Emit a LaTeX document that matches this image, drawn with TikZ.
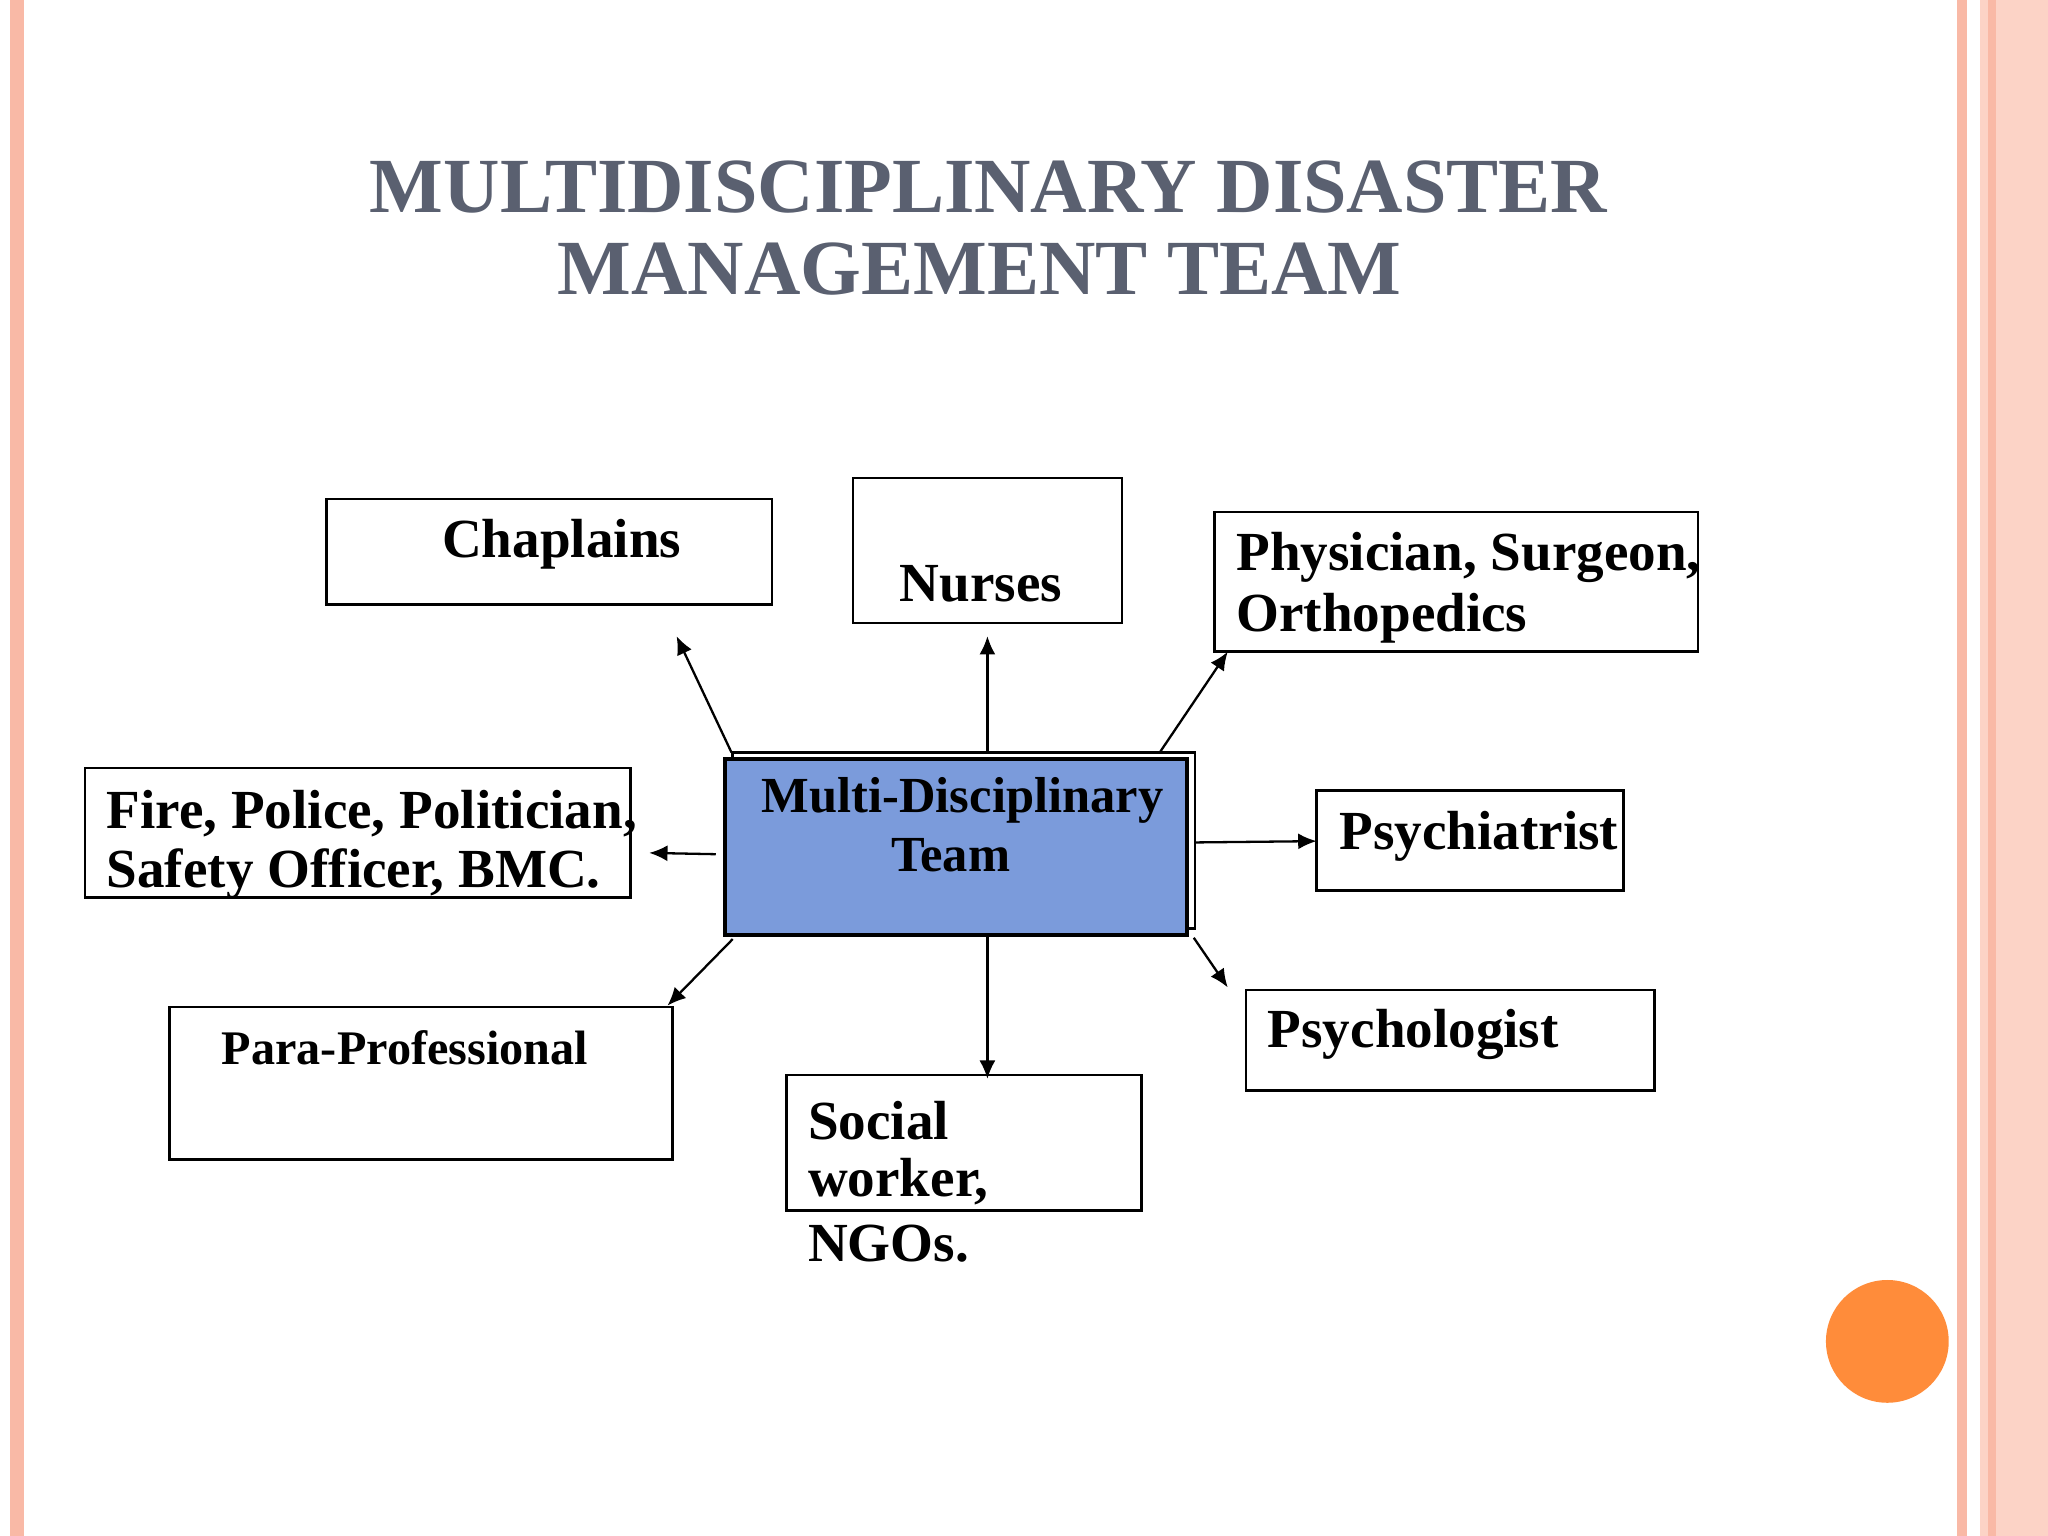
\documentclass[tikz,border=0pt]{standalone}
\usepackage{fontspec}
\setmainfont{Liberation Serif}
\usetikzlibrary{arrows.meta}
\definecolor{titlec}{HTML}{5A6070}
\definecolor{pinkb}{HTML}{F9B9A6}
\definecolor{pinkl}{HTML}{FCD3C6}
\definecolor{blueb}{HTML}{7B9BDB}
\definecolor{orng}{HTML}{FF8C3A}
\begin{document}
\begin{tikzpicture}[x=0.01cm,y=-0.01cm,
  box/.style={draw,line width=0.6pt,anchor=north west,inner sep=0pt},
  lbl/.style={font=\bfseries\fontsize{12}{14}\selectfont,inner sep=0pt},
  arr/.style={-{Latex[length=4pt,width=3.5pt]},line width=0.5pt}]
\useasboundingbox (0,0) rectangle (1568,1176);
\fill[white] (0,0) rectangle (1568,1176);
\fill[pinkb] (8,0) rectangle (18,1176);
\fill[pinkb] (1498,0) rectangle (1506,1176);
\fill[pinkl] (1516,0) rectangle (1568,1176);
\fill[pinkb] (1522,0) rectangle (1528,1176);
\fill[orng] (1445,1027) circle (47);
\node[font=\bfseries\fontsize{17}{20}\selectfont,text=titlec] (t1) at (757,143) {MULTIDISCIPLINARY DISASTER};
\node[font=\bfseries\fontsize{17}{20}\selectfont,text=titlec] (t2) at (750,206) {MANAGEMENT TEAM};
% boxes
\draw[line width=0.6pt] (250,382) rectangle (591,463);
\node[lbl] (chap) at (430,417) {Chaplains};
\draw[line width=0.6pt] (653,366) rectangle (859,477);
\node[lbl] (nur) at (751,447) {Nurses};
\draw[line width=0.6pt] (930,392) rectangle (1300,499);
\node[lbl,anchor=west] (phy1) at (946,427) {Physician, Surgeon,};
\node[lbl,anchor=west] (phy2) at (946,473) {Orthopedics};
\draw[line width=0.6pt] (65,588) rectangle (483,687);
\node[lbl,anchor=west] (fir1) at (81,623) {Fire, Police, Politician,};
\node[lbl,anchor=west] (fir2) at (81,669) {Safety Officer, BMC.};
\draw[line width=0.6pt] (561,576) rectangle (915,711);
\draw[line width=0.8pt,fill=blueb] (555,581) rectangle (909,716);
\node[lbl,font=\bfseries\fontsize{11}{13}\selectfont] (c1) at (737,613) {Multi-Disciplinary};
\node[lbl,font=\bfseries\fontsize{11}{13}\selectfont] (c2) at (728,655) {Team};
\draw[line width=0.6pt] (1008,605) rectangle (1243,682);
\node[lbl,anchor=west] (psy) at (1025,640) {Psychiatrist};
\draw[line width=0.6pt] (954,758) rectangle (1267,835);
\node[lbl,anchor=west] (psl) at (970,792) {Psychologist};
\draw[line width=0.6pt] (130,771) rectangle (515,888);
\node[lbl,font=\bfseries\fontsize{10.5}{12}\selectfont] (para) at (310,802) {Para-Professional};
\draw[line width=0.6pt] (602,823) rectangle (874,927);
\node[lbl,anchor=west] (s1) at (618,858) {Social};
\node[lbl,anchor=west] (s2) at (618,905) {worker,};
\node[lbl,anchor=west] (s3) at (618,952) {NGOs.};
% arrows
\coordinate (a1) at (560,576); \coordinate (b1) at (518,487);
\coordinate (a2) at (756,576); \coordinate (b2) at (756,487);
\coordinate (a3) at (888,576); \coordinate (b3) at (940,499);
\coordinate (a4) at (548,654); \coordinate (b4) at (497,653);
\coordinate (a5) at (915,645); \coordinate (b5) at (1008,644);
\coordinate (a6) at (914,718); \coordinate (b6) at (940,756);
\coordinate (a7) at (561,719); \coordinate (b7) at (511,770);
\coordinate (a8) at (756,716); \coordinate (b8) at (756,826);
\foreach \i in {1,...,8} \draw[arr] (a\i) -- (b\i);
\end{tikzpicture}
\end{document}
